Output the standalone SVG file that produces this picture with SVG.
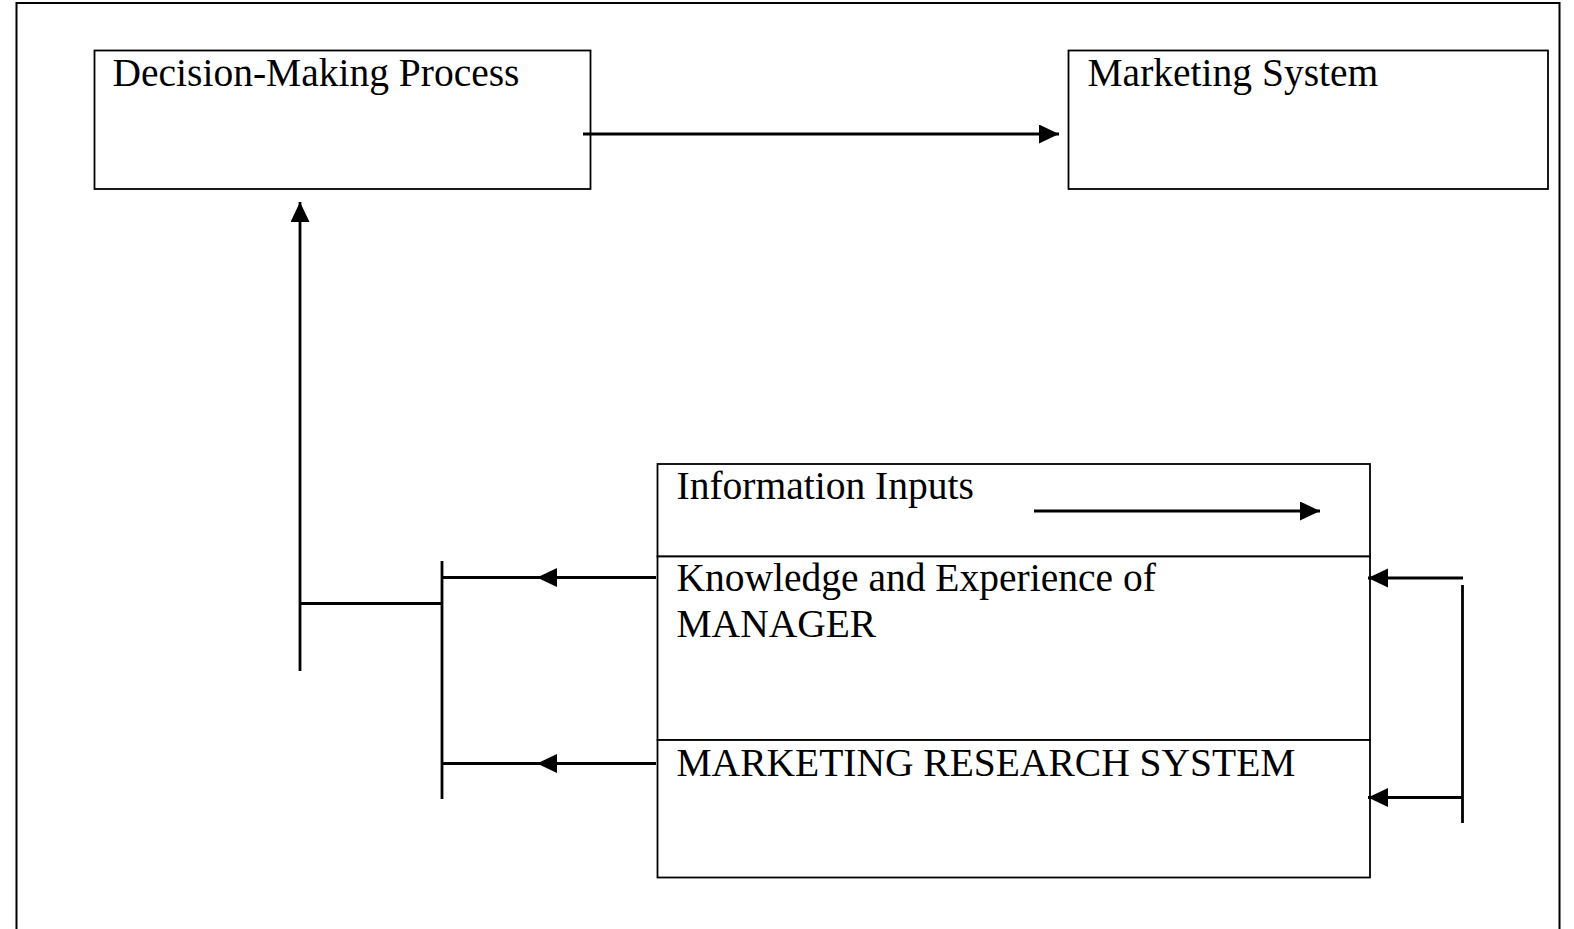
<svg xmlns="http://www.w3.org/2000/svg" width="1574" height="929" viewBox="0 0 1574 929">
  <style>
    .box { fill: #ffffff; stroke: #000000; stroke-width: 1.8; }
    .lbl { font-family: "Liberation Serif", "Times New Roman", serif; font-size: 39.5px; fill: #000000; }
    .ln { fill: none; stroke: #000000; stroke-width: 2.8; }
    .arr { fill: none; stroke: #000000; stroke-width: 2.8; marker-end: url(#ah); }
  </style>
  <defs>
    <marker id="ah" markerUnits="userSpaceOnUse" markerWidth="22" markerHeight="20" refX="20" refY="9.5" orient="auto">
      <path d="M0,0 L20,9.5 L0,19 Z" fill="#000000"/>
    </marker>
  </defs>
  <rect width="1574" height="929" fill="#ffffff"/>
  <g id="frame">
    <path d="M16.5,935 L16.5,3 L1559.5,3 L1559.5,935" fill="none" stroke="#000000" stroke-width="2"/>
  </g>
  <g id="decision-making-process">
    <rect class="box" x="94.5" y="50.5" width="496" height="138.5"/>
    <text class="lbl" x="112.5" y="86">Decision-Making Process</text>
  </g>
  <g id="marketing-system">
    <rect class="box" x="1068.5" y="50.5" width="479.5" height="138.5"/>
    <text class="lbl" x="1087.5" y="86">Marketing System</text>
  </g>
  <g id="information-inputs">
    <rect class="box" x="657.5" y="464" width="712.5" height="92.5"/>
    <text class="lbl" x="676.5" y="499">Information Inputs</text>
  </g>
  <g id="knowledge-experience">
    <rect class="box" x="657.5" y="556.5" width="712.5" height="183.5"/>
    <text class="lbl" x="676.5" y="591">Knowledge and Experience of</text>
    <text class="lbl" x="676.5" y="637">MANAGER</text>
  </g>
  <g id="marketing-research-system">
    <rect class="box" x="657.5" y="740" width="712.5" height="137.5"/>
    <text class="lbl" x="676.5" y="776">MARKETING RESEARCH SYSTEM</text>
  </g>
  <g id="connectors">
    <line class="arr" x1="583" y1="134" x2="1059" y2="134"/>
    <line class="arr" x1="1034" y1="511" x2="1320" y2="511"/>
    <line class="arr" x1="300" y1="671" x2="300" y2="202"/>
    <line class="ln" x1="300" y1="603.5" x2="442" y2="603.5"/>
    <line class="ln" x1="442" y1="561" x2="442" y2="799"/>
    <line class="arr" x1="656" y1="577.5" x2="537" y2="577.5"/>
    <line class="ln" x1="442" y1="577.5" x2="540" y2="577.5"/>
    <line class="arr" x1="656" y1="763.5" x2="537" y2="763.5"/>
    <line class="ln" x1="442" y1="763.5" x2="540" y2="763.5"/>
    <line class="arr" x1="1463" y1="578" x2="1368" y2="578"/>
    <line class="ln" x1="1462.5" y1="585" x2="1462.5" y2="823"/>
    <line class="arr" x1="1463" y1="797.5" x2="1368" y2="797.5"/>
  </g>
</svg>
